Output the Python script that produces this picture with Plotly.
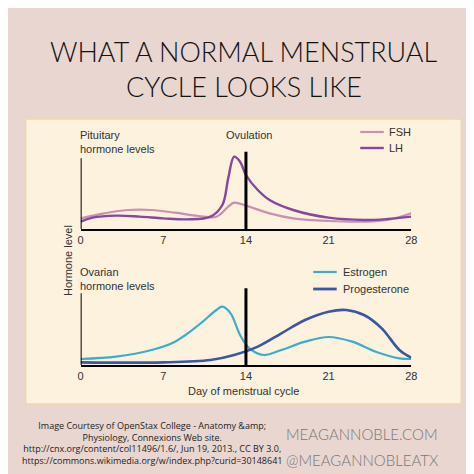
import plotly.graph_objects as go

days_lh = [0,1,3,5,7,9,11,12,12.5,13,13.5,14,15,16,18,21,24,26,28]
lh = [22,34,40,37,32,29,37,72,152,217,202,162,117,87,57,34,27,30,37]
days_fsh = [0,2,4,6,8,10,11.5,12.5,13,14,16,18,21,24,26,28]
fsh = [32,47,57,57,49,39,37,67,79,70,47,32,24,22,27,47]
days_est = [0,3,6,8,10,11.5,12,12.7,13.5,14.3,15.5,17,19,21,23,25,27,28]
est = [18,25,45,70,120,165,175,155,90,50,30,45,70,84,70,40,20,18]
days_pro = [0,7,11,13,15,17,19,21,22.5,24,25.5,27,28]
pro = [8,8,15,30,55,95,135,160,165,150,110,45,22]
ticks = [0,7,14,21,28]

C_FSH, C_LH, C_EST, C_PRO = "#c891b0", "#8747a0", "#3badcf", "#3a56a5"
W = 474
def py(p): return 1 - p / W

fig = go.Figure()
fig.add_trace(go.Scatter(x=days_fsh, y=fsh, mode="lines", line=dict(color=C_FSH, width=2.2, shape="spline"), xaxis="x", yaxis="y"))
fig.add_trace(go.Scatter(x=days_lh, y=lh, mode="lines", line=dict(color=C_LH, width=2.4, shape="spline"), xaxis="x", yaxis="y"))
fig.add_trace(go.Scatter(x=days_est, y=est, mode="lines", line=dict(color=C_EST, width=2.2, shape="spline"), xaxis="x2", yaxis="y2"))
fig.add_trace(go.Scatter(x=days_pro, y=pro, mode="lines", line=dict(color=C_PRO, width=2.6, shape="spline"), xaxis="x2", yaxis="y2"))

xd = [71 / W, 408 / W]
axcommon = dict(range=[0, 28], tickvals=ticks, showgrid=False, zeroline=False, showline=True,
                linecolor="black", linewidth=2, ticks="", tickfont=dict(family="Liberation Sans", size=11, color="#333"))
fig.update_layout(
    width=W, height=W, margin=dict(l=0, r=0, t=0, b=0), showlegend=False,
    paper_bgcolor="#e9d6d1", plot_bgcolor="rgba(0,0,0,0)",
    xaxis=dict(domain=xd, anchor="y", **axcommon),
    yaxis=dict(domain=[py(221), py(130)], range=[0, 273], showticklabels=False, showgrid=False, zeroline=False,
               showline=False, anchor="x"),
    xaxis2=dict(domain=xd, anchor="y2", **axcommon),
    yaxis2=dict(domain=[py(357), py(270)], range=[0, 261], showticklabels=False, showgrid=False, zeroline=False,
                showline=False, anchor="x2"),
)

shapes = [
    dict(type="rect", xref="paper", yref="paper", x0=15 / W, x1=459 / W, y0=py(396), y1=py(111),
         fillcolor="#fcf2de", line=dict(color="#f0d6ae", width=1.5), layer="below"),
    dict(type="line", xref="x", yref="y", x0=0, x1=0, y0=0, y1=212, line=dict(color="black", width=2)),
    dict(type="line", xref="x2", yref="y2", x0=0, x1=0, y0=0, y1=215, line=dict(color="black", width=2)),
    dict(type="line", xref="x", yref="y", x0=14, x1=14, y0=0, y1=232, line=dict(color="black", width=3)),
    dict(type="line", xref="x2", yref="y2", x0=14, x1=14, y0=0, y1=230, line=dict(color="black", width=3)),
]
for (yy, c, w) in [(124, C_FSH, 2.2), (140, C_LH, 2.4), (264, C_EST, 2.2), (281, C_PRO, 2.8)]:
    x0, x1 = (356, 380) if yy < 200 else (308, 332)
    shapes.append(dict(type="line", xref="paper", yref="paper", x0=x0 / W, x1=x1 / W, y0=py(yy), y1=py(yy),
                       line=dict(color=c, width=w)))
fig.update_layout(shapes=shapes)

F = "Liberation Sans"
def ann(text, x, y, size=11, color="#333", xa="left", fam=F, weight="normal"):
    return dict(text=text, x=x / W, y=py(y), xref="paper", yref="paper", showarrow=False,
                xanchor=xa, yanchor="middle", font=dict(family=fam, size=size, color=color, weight=weight),
                align="center" if xa == "center" else "left")

anns = [
    ann("WHAT A NORMAL MENSTRUAL", 237, 44, 27, "#111", "center", "Lato", 300),
    ann("CYCLE LOOKS LIKE", 237, 78, 27, "#111", "center", "Lato", 300),
    ann("Pituitary<br>hormone levels", 68, 134, 11),
    ann("Ovulation", 243, 127, 11, xa="center"),
    ann("FSH", 383, 124, 11), ann("LH", 383, 140, 11),
    ann("Ovarian<br>hormone levels", 68, 271, 11),
    ann("Estrogen", 336, 264, 11), ann("Progesterone", 336, 281, 11),
    ann("Day of menstrual cycle", 237, 383, 11, xa="center"),
    ann("Image Courtesy of OpenStax College - Anatomy &amp;amp;<br>Physiology, Connexions Web site.<br>http://cnx.org/content/col11496/1.6/, Jun 19, 2013., CC BY 3.0,<br>https://commons.wikimedia.org/w/index.php?curid=30148641",
        144, 435, 9, "#222", "center", "Open Sans"),
    ann("MEAGANNOBLE.COM", 358, 426, 15, "#777", "center", "Lato", 300),
    ann("@MEAGANNOBLEATX", 358, 452, 15, "#777", "center", "Lato", 300),
    dict(text="Hormone level", x=50 / W, y=py(253), xref="paper", yref="paper", showarrow=False, textangle=-90,
         font=dict(family=F, size=11, color="#333")),
]
fig.update_layout(annotations=anns)
fig.write_html("out.html")
